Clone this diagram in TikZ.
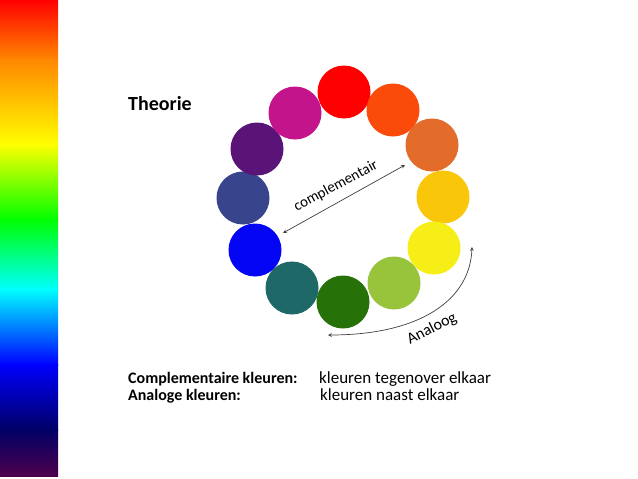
\documentclass[tikz,border=0pt]{standalone}
\usepackage{fontspec}
\setmainfont{Carlito}
\begin{document}
\begin{tikzpicture}[x=1pt,y=-1pt,
  dot/.style={circle,minimum size=53pt,inner sep=0pt},
  lbl/.style={font=\fontsize{17}{19}\selectfont,anchor=base west,inner sep=0pt},
  blbl/.style={font=\fontsize{16}{19}\selectfont\bfseries,anchor=base west,inner sep=0pt},
  arr/.style={<->,>=stealth,line width=0.7pt,draw=black!75}]
\useasboundingbox (0,0) rectangle (638,479);
\fill[white] (0,0) rectangle (638,479);
\def\seg#1#2#3#4{\shade[top color=#3,bottom color=#4] (0,#1) rectangle (58,#2);}
\seg{0}{60}{red}{red!45!yellow!55!orange}
\seg{59}{145}{red!45!yellow!55!orange}{yellow}
\seg{144}{220}{yellow}{green}
\seg{219}{290}{green}{cyan}
\seg{289}{365}{cyan}{blue}
\seg{364}{430}{blue}{blue!40!black}
\seg{429}{476}{blue!40!black}{violet!60!black}
\node[dot,fill={rgb,255:red,254;green,0;blue,0}] (c1) at (344,92) {};
\node[dot,fill={rgb,255:red,250;green,75;blue,10}] (c2) at (393,110) {};
\node[dot,fill={rgb,255:red,228;green,108;blue,42}] (c3) at (432,145) {};
\node[dot,fill={rgb,255:red,250;green,198;blue,10}] (c4) at (443,197) {};
\node[dot,fill={rgb,255:red,246;green,238;blue,22}] (c5) at (434,248) {};
\node[dot,fill={rgb,255:red,152;green,196;blue,60}] (c6) at (394,283) {};
\node[dot,fill={rgb,255:red,38;green,114;blue,8}] (c7) at (343,302) {};
\node[dot,fill={rgb,255:red,30;green,104;blue,104}] (c8) at (292,288) {};
\node[dot,fill={rgb,255:red,5;green,5;blue,245}] (c9) at (255,250) {};
\node[dot,fill={rgb,255:red,56;green,68;blue,140}] (c10) at (243,198) {};
\node[dot,fill={rgb,255:red,90;green,20;blue,120}] (c11) at (257,149) {};
\node[dot,fill={rgb,255:red,196;green,20;blue,140}] (c12) at (295,113) {};
\coordinate (a1) at (405,165);
\coordinate (a2) at (283,233);
\draw[arr] (a1) -- (a2);
\node[rotate=28,font=\fontsize{15}{17}\selectfont] (tc) at (336,186) {complementair};
\coordinate (b1) at (472,247);
\coordinate (b2) at (328,335);
\draw[arr] (b1) .. controls (470,300) and (420,335) .. (b2);
\node[rotate=27,font=\fontsize{16}{18}\selectfont] (ta) at (432,329) {Analoog};
\node[blbl,font=\fontsize{20}{22}\selectfont\bfseries] (th) at (128,110) {Theorie};
\node[blbl] (l1) at (128,383) {Complementaire kleuren:};
\node[lbl] (r1) at (319,383) {kleuren tegenover elkaar};
\node[blbl] (l2) at (128,400) {Analoge kleuren:};
\node[lbl] (r2) at (320,400) {kleuren naast elkaar};
\end{tikzpicture}
\end{document}
